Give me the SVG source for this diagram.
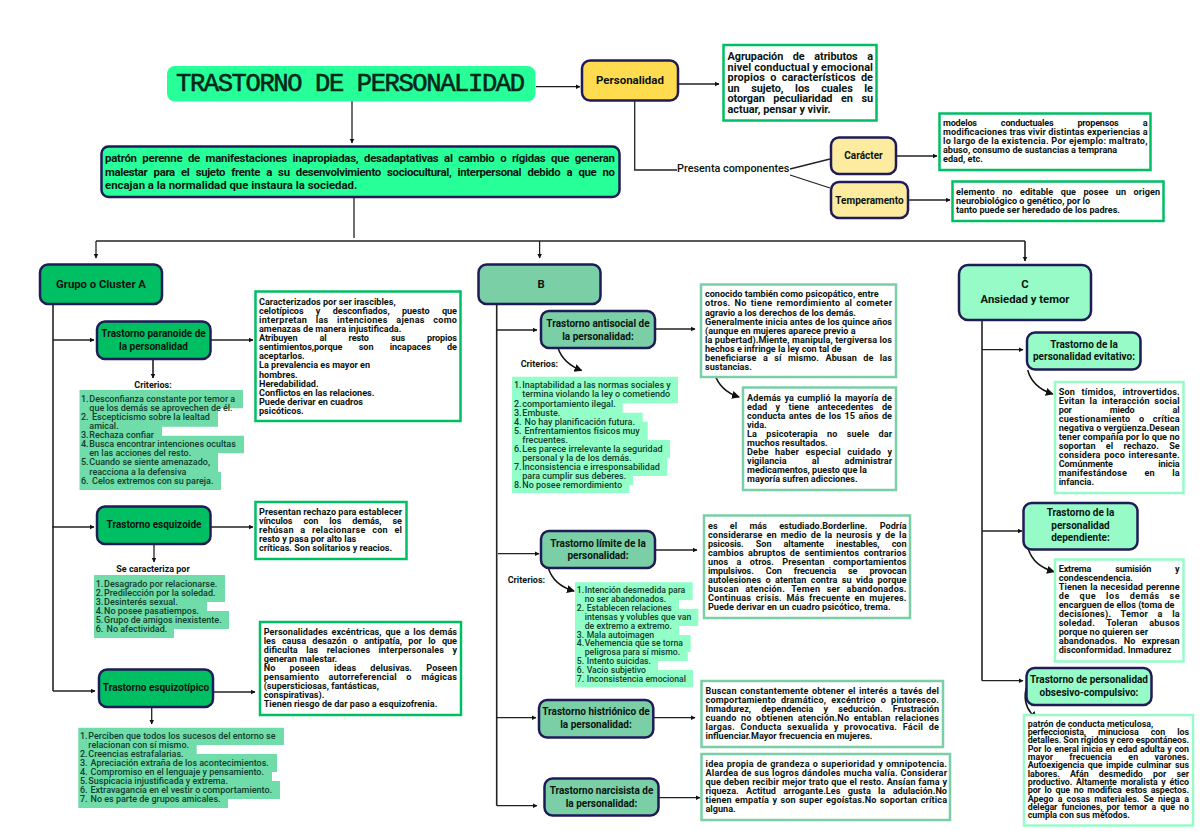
<svg xmlns="http://www.w3.org/2000/svg" width="1200" height="831" viewBox="0 0 1200 831">
<style>
text{font-family:Roboto,"Liberation Sans",sans-serif;fill:#0a1410}
.n{stroke:#1f1b57;stroke-width:2.5}
.a{fill:#00bf63}.b{fill:#7acfa6}.c{fill:#96fbc7}
.y1{fill:#ffdc4f}.y2{fill:#fdeb9f}
.bx{fill:#fff;stroke-width:2.5}
.ga{stroke:#00bf63}.gb{stroke:#7acfa6}.gc{stroke:#96fbc7}
.h{font-weight:700;font-size:10px;text-anchor:middle}
.h2{font-weight:700;font-size:11.3px;text-anchor:middle}
.t{font-weight:700;font-size:9.1px}
.o{font-weight:700;font-size:8.9px}
.g{font-weight:700;font-size:10.9px}
.d{font-weight:700;font-size:11.4px}
.l{font-weight:500;font-size:9px;fill:#123c2c}
.l2{font-weight:500;font-size:8.7px;fill:#123c2c}
.k{font-weight:700;font-size:9px}
.ha{fill:#6fdcaa}.hb{fill:#93ffc8}
.w{fill:none;stroke:#222;stroke-width:1.3}
.w2{fill:none;stroke:#222;stroke-width:1.6}
.ar{marker-end:url(#m)}
.cv{fill:none;stroke:#111;stroke-width:1.5;marker-end:url(#m2)}
</style>
<defs>
<marker id="m" markerUnits="userSpaceOnUse" markerWidth="6" markerHeight="6" refX="4.5" refY="2.5" orient="auto"><path d="M0 0L5 2.5L0 5Z" fill="#111"/></marker>
<marker id="m2" markerUnits="userSpaceOnUse" markerWidth="10" markerHeight="10" refX="7" refY="4" orient="auto"><path d="M0 0L8 4L0 8Z" fill="#111"/></marker>
</defs>
<g id="connectors">
<path class="w ar" d="M536 86.700H580"/>
<path class="w ar" d="M352 101V143"/>
<path class="w" d="M354 197V238"/>
<path class="w" d="M96 241H1025"/>
<path class="w ar" d="M96 241V258"/>
<path class="w ar" d="M539.600 241V258"/>
<path class="w2 ar" d="M1025 241V261"/>
<path class="w ar" d="M678 84H719"/>
<path class="w" d="M634.700 101V170H677"/>
<path class="w" d="M790 169L830 159M790 175L830 188"/>
<path class="w2 ar" d="M897 156H937"/>
<path class="w ar" d="M908 200H950"/>
<path class="w2" d="M53 304V691"/>
<path class="w ar" d="M53 340H94"/>
<path class="w ar" d="M211 340H253"/>
<path class="w2 ar" d="M153 359V378"/>
<path class="w ar" d="M52 527H94"/>
<path class="w ar" d="M211 527H253"/>
<path class="w ar" d="M154 544V562"/>
<path class="w ar" d="M53 691H95"/>
<path class="w ar" d="M214 692H255"/>
<path class="w ar" d="M151.700 707V724"/>
<path class="w2" d="M496.700 304V805.700"/>
<path class="w ar" d="M497 330H537"/>
<path class="w ar" d="M656 329H695"/>
<path class="cv" d="M558 348C562 360 570 366 581.500 370.500"/>
<path class="cv" d="M714.300 373C718 385 726 393 739 397"/>
<path class="w ar" d="M498 553.700H539"/>
<path class="w ar" d="M656 550H697"/>
<path class="cv" d="M548.300 568C552 580 560 587 574 591"/>
<path class="w ar" d="M496 717.700H536"/>
<path class="w ar" d="M654 717.700H695"/>
<path class="w ar" d="M496.700 805.700H537"/>
<path class="w ar" d="M659 797.700H700"/>
<path class="w2" d="M982 320V680.700"/>
<path class="w ar" d="M982 349.700H1023"/>
<path class="cv" d="M1027.700 370C1031 382 1040 390 1052.700 394"/>
<path class="w ar" d="M982 531H1022"/>
<path class="cv" d="M1028.300 549C1032 561 1041 568 1054 571.700"/>
<path class="w ar" d="M982 680.700H1023"/>
<path class="cv" d="M1027 686C1023 697 1026 707 1031 713L1036 719"/>
</g>
<g id="titulo"><rect x="167" y="66" width="368.500" height="35.500" rx="8" fill="#27ff99"/><text x="176" y="91" textLength="349" style="font-family:'Liberation Mono',monospace;font-size:25.500px;font-weight:400;fill:#06281c;stroke:#06281c;stroke-width:.6px">TRASTORNO DE PERSONALIDAD</text></g>
<g id="definicion"><rect class="n" x="101.500" y="146.500" width="518" height="50.500" rx="7" fill="#27ff99"/>
<text class="d" x="105" y="162" textLength="510" style="word-spacing:3px">patrón perenne de manifestaciones inapropiadas, desadaptativas al cambio o rígidas que generan</text>
<text class="d" x="105" y="175.500" textLength="510" style="word-spacing:3.700px">malestar para el sujeto frente a su desenvolvimiento sociocultural, interpersonal debido a que no</text>
<text class="d" x="105" y="189">encajan a la normalidad que instaura la sociedad.</text></g>
<g id="personalidad"><rect class="n y1" x="582" y="60.500" width="96" height="40" rx="8"/><text class="h" style="font-size:11.500px" x="630" y="84">Personalidad</text></g>
<g id="agrupacion"><rect class="bx ga" x="723.500" y="45" width="153" height="75.500"/>
<text class="g" x="727.500" y="60" textLength="145.500" style="word-spacing:7px">Agrupación de atributos a</text>
<text class="g" x="727.500" y="70.500" textLength="145.500">nivel conductual y emocional</text>
<text class="g" x="727.500" y="81" textLength="145.500" style="word-spacing:2.500px">propios o característicos de</text>
<text class="g" x="727.500" y="91.500" textLength="145.500" style="word-spacing:9px">un sujeto, los cuales le</text>
<text class="g" x="727.500" y="102" textLength="145.500" style="word-spacing:6px">otorgan peculiaridad en su</text>
<text class="g" x="727.500" y="112.500">actuar, pensar y vivir.</text></g>
<g id="presenta"><text x="677" y="172" style="font-weight:500;font-size:10.850px">Presenta componentes</text></g>
<g id="caracter"><rect class="n y2" x="831" y="137.500" width="65" height="36.500" rx="8"/><text class="h" x="863.500" y="159">Carácter</text></g>
<g id="temperamento"><rect class="n y2" x="831" y="182" width="77" height="36" rx="8"/><text class="h" x="869.500" y="203.500">Temperamento</text></g>
<g id="caracter-texto"><rect class="bx ga" x="939.500" y="113.500" width="211" height="56.500"/>
<text class="t" x="943" y="126" textLength="204.500" style="word-spacing:22px">modelos conductuales propensos a</text>
<text class="t" x="943" y="135" textLength="204.500">modificaciones tras vivir distintas experiencias a</text>
<text class="t" x="943" y="144" textLength="204.500">lo largo de la existencia. Por ejemplo: maltrato,</text>
<text class="t" x="943" y="153">abuso, consumo de sustancias a temprana</text>
<text class="t" x="943" y="162">edad, etc.</text></g>
<g id="temperamento-texto"><rect class="bx ga" x="952.500" y="181.500" width="211" height="39.500"/>
<text class="t" x="956" y="195" textLength="204" style="word-spacing:5px">elemento no editable que posee un origen</text>
<text class="t" x="956" y="204">neurobiológico o genético, por lo</text>
<text class="t" x="956" y="213">tanto puede ser heredado de los padres.</text></g>

<g id="cluster-a"><rect class="n a" x="40" y="264.500" width="122" height="39.500" rx="8"/><text class="h2" x="101" y="288">Grupo o Cluster A</text></g>
<g id="paranoide"><rect class="n a" x="97" y="321.500" width="113.500" height="37.500" rx="8"/><text class="h" x="153.500" y="337">Trastorno paranoide de</text><text class="h" x="153.500" y="350">la personalidad</text></g>
<g id="paranoide-texto"><rect class="bx ga" x="255.500" y="291.500" width="205" height="129.500"/>
<text class="t" x="259" y="304.700">Caracterizados por ser irascibles,</text>
<text class="t" x="259" y="313.800" textLength="198" style="word-spacing:10px">celotípicos y desconfiados, puesto que</text>
<text class="t" x="259" y="322.900" textLength="198" style="word-spacing:6px">interpretan las intenciones ajenas como</text>
<text class="t" x="259" y="332">amenazas de manera injustificada.</text>
<text class="t" x="259" y="341.100" textLength="198" style="word-spacing:20px">Atribuyen al resto sus propios</text>
<text class="t" x="259" y="350.200" textLength="198" style="word-spacing:14px">sentimientos,porque son incapaces de</text>
<text class="t" x="259" y="359.300">aceptarlos.</text>
<text class="t" x="259" y="368.400">La prevalencia es mayor en</text>
<text class="t" x="259" y="377.500">hombres.</text>
<text class="t" x="259" y="386.600">Heredabilidad.</text>
<text class="t" x="259" y="395.700">Conflictos en las relaciones.</text>
<text class="t" x="259" y="404.800">Puede derivar en cuadros</text>
<text class="t" x="259" y="413.900">psicóticos.</text></g>
<g id="paranoide-criterios"><text class="k" x="153" y="388" text-anchor="middle">Criterios:</text>
<path class="ha" d="M79.500 390H243V408.300H218V426.700H162V435.700H244V453.300H218V471.700H221V490H79.500Z"/>
<text class="l" y="401.700"><tspan x="81">1.</tspan><tspan x="89.300">Desconfianza constante por temor a</tspan></text>
<text class="l" x="89.300" y="410.800">que los demás se aprovechen de él.</text>
<text class="l" y="419.900"><tspan x="81">2.</tspan><tspan x="92">Escepticismo sobre la lealtad</tspan></text>
<text class="l" x="89.300" y="429">amical.</text>
<text class="l" y="438.100"><tspan x="81">3.</tspan><tspan x="89.300">Rechaza confiar</tspan></text>
<text class="l" y="447.200"><tspan x="81">4.</tspan><tspan x="89.300">Busca encontrar intenciones ocultas</tspan></text>
<text class="l" x="89.300" y="456.300">en las acciones del resto.</text>
<text class="l" y="465.400"><tspan x="81">5.</tspan><tspan x="89.300">Cuando se siente amenazado,</tspan></text>
<text class="l" x="89.300" y="474.500">reacciona a la defensiva</text>
<text class="l" y="483.600"><tspan x="81">6.</tspan><tspan x="92">Celos extremos con su pareja.</tspan></text></g>

<g id="esquizoide"><rect class="n a" x="97" y="506.500" width="113.500" height="37.500" rx="8"/><text class="h" x="154" y="527.700">Trastorno esquizoide</text></g>
<g id="esquizoide-texto"><rect class="bx ga" x="255.500" y="502" width="151" height="57"/>
<text class="t" x="259" y="515" textLength="143">Presentan rechazo para establecer</text>
<text class="t" x="259" y="524" textLength="143" style="word-spacing:9px">vínculos con los demás, se</text>
<text class="t" x="259" y="533" textLength="143" style="word-spacing:4px">rehúsan a relacionarse con el</text>
<text class="t" x="259" y="542">resto y pasa por alto las</text>
<text class="t" x="259" y="551">críticas. Son solitarios y reacios.</text></g>
<g id="esquizoide-criterios"><text class="k" x="153" y="572" text-anchor="middle">Se caracteriza por</text>
<path class="ha" d="M94 575H225V602H207V611H229V629H174V638H94Z"/>
<text class="l" y="586.700"><tspan x="95.700">1.</tspan><tspan x="104">Desagrado por relacionarse.</tspan></text>
<text class="l" y="595.700"><tspan x="95.700">2.</tspan><tspan x="104">Predilección por la soledad.</tspan></text>
<text class="l" y="604.700"><tspan x="95.700">3.</tspan><tspan x="104">Desinterés sexual.</tspan></text>
<text class="l" y="613.700"><tspan x="95.700">4.</tspan><tspan x="104">No posee pasatiempos.</tspan></text>
<text class="l" y="622.700"><tspan x="95.700">5.</tspan><tspan x="104">Grupo de amigos inexistente.</tspan></text>
<text class="l" y="631.700"><tspan x="95.700">6.</tspan><tspan x="106.500">No afectividad.</tspan></text></g>

<g id="esquizotipico"><rect class="n a" x="99" y="669.500" width="114" height="37.500" rx="8"/><text class="h" x="156" y="691">Trastorno esquizotípico</text></g>
<g id="esquizotipico-texto"><rect class="bx ga" x="260" y="622" width="201" height="93"/>
<text class="t" x="263.700" y="635" textLength="193.300" style="word-spacing:1.500px">Personalidades excéntricas, que a los demás</text>
<text class="t" x="263.700" y="644" textLength="193.300" style="word-spacing:4px">les causa desazón o antipatía, por lo que</text>
<text class="t" x="263.700" y="653" textLength="193.300" style="word-spacing:6px">dificulta las relaciones interpersonales y</text>
<text class="t" x="263.700" y="662">generan malestar.</text>
<text class="t" x="263.700" y="671" textLength="193.300" style="word-spacing:12px">No poseen ideas delusivas. Poseen</text>
<text class="t" x="263.700" y="680" textLength="193.300" style="word-spacing:7px">pensamiento autorreferencial o mágicas</text>
<text class="t" x="263.700" y="689">(supersticiosas, fantásticas,</text>
<text class="t" x="263.700" y="698">conspirativas).</text>
<text class="t" x="263.700" y="707">Tienen riesgo de dar paso a esquizofrenia.</text></g>
<g id="esquizotipico-criterios"><path class="ha" d="M78.300 727.700H284V745H196.700V754H277V772H272V781H280V799H228V808H78.300Z"/>
<text class="l" y="739"><tspan x="80">1.</tspan><tspan x="88.300">Perciben que todos los sucesos del entorno se</tspan></text>
<text class="l" x="88.300" y="748">relacionan con sí mismo.</text>
<text class="l" y="757"><tspan x="80">2.</tspan><tspan x="88.300">Creencias estrafalarias.</tspan></text>
<text class="l" y="766"><tspan x="80">3.</tspan><tspan x="90.500">Apreciación extraña de los acontecimientos.</tspan></text>
<text class="l" y="775"><tspan x="80">4.</tspan><tspan x="90.500">Compromiso en el lenguaje y pensamiento.</tspan></text>
<text class="l" y="784"><tspan x="80">5.</tspan><tspan x="88.300">Suspicacia injustificada y extrema.</tspan></text>
<text class="l" y="793"><tspan x="80">6.</tspan><tspan x="90.500">Extravagancia en el vestir o comportamiento.</tspan></text>
<text class="l" y="802"><tspan x="80">7.</tspan><tspan x="90.500">No es parte de grupos amicales.</tspan></text></g>

<g id="cluster-b"><rect class="n b" x="478.500" y="264.500" width="122" height="39.500" rx="8"/><text class="h2" x="541" y="288">B</text></g>
<g id="antisocial"><rect class="n b" x="541" y="311" width="114" height="37" rx="8"/><text class="h" x="598" y="326.700">Trastorno antisocial de</text><text class="h" x="598" y="339.500">la personalidad:</text></g>
<g id="antisocial-texto"><rect class="bx gb" x="701" y="284.500" width="195" height="92.500"/>
<text class="t" x="705" y="297.300">conocido también como psicopático, entre</text>
<text class="t" x="705" y="306.400" textLength="187" style="word-spacing:1.500px">otros. No tiene remordimiento al cometer</text>
<text class="t" x="705" y="315.500">agravio a los derechos de los demás.</text>
<text class="t" x="705" y="324.600" textLength="187">Generalmente inicia antes de los quince años</text>
<text class="t" x="705" y="333.700">(aunque en mujeres aparece previo a</text>
<text class="t" x="705" y="342.800" textLength="187">la pubertad).Miente, manipula, tergiversa los</text>
<text class="t" x="705" y="351.900">hechos e infringe la ley con tal de</text>
<text class="t" x="705" y="361" textLength="187" style="word-spacing:4px">beneficiarse a sí mismo. Abusan de las</text>
<text class="t" x="705" y="370.100">sustancias.</text></g>
<g id="antisocial-texto2"><rect class="bx gb" x="743" y="387.500" width="153" height="102.500"/>
<text class="t" x="747" y="401" textLength="145" style="word-spacing:1px">Además ya cumplió la mayoría de</text>
<text class="t" x="747" y="410" textLength="145" style="word-spacing:6px">edad y tiene antecedentes de</text>
<text class="t" x="747" y="419" textLength="145" style="word-spacing:1px">conducta antes de los 15 años de</text>
<text class="t" x="747" y="428">vida.</text>
<text class="t" x="747" y="437" textLength="145" style="word-spacing:7px">La psicoterapia no suele dar</text>
<text class="t" x="747" y="446">muchos resultados.</text>
<text class="t" x="747" y="455" textLength="145" style="word-spacing:4px">Debe haber especial cuidado y</text>
<text class="t" x="747" y="464" textLength="145" style="word-spacing:23px">vigilancia al administrar</text>
<text class="t" x="747" y="473">medicamentos, puesto que la</text>
<text class="t" x="747" y="482">mayoría sufren adicciones.</text></g>
<g id="antisocial-criterios"><text class="k" x="520.700" y="367.300">Criterios:</text>
<path class="hb" d="M512 376.700H678V403.300H622.700V412.700H642.700V421.700H647.700V440H670V458.300H667V476H633V485H629V493H512Z"/>
<text class="l" y="388.300"><tspan x="514">1.</tspan><tspan x="522.300">Inaptabilidad a las normas sociales y</tspan></text>
<text class="l" x="522.300" y="397.400">termina violando la ley o cometiendo</text>
<text class="l" y="406.500"><tspan x="514">2.</tspan><tspan x="522.300">comportamiento ilegal.</tspan></text>
<text class="l" y="415.600"><tspan x="514">3.</tspan><tspan x="522.300">Embuste.</tspan></text>
<text class="l" y="424.700"><tspan x="514">4.</tspan><tspan x="524.500">No hay planificación futura.</tspan></text>
<text class="l" y="433.800"><tspan x="514">5.</tspan><tspan x="524.500">Enfrentamientos físicos muy</tspan></text>
<text class="l" x="522.300" y="442.900">frecuentes.</text>
<text class="l" y="452"><tspan x="514">6.</tspan><tspan x="522.300">Les parece irrelevante la seguridad</tspan></text>
<text class="l" x="522.300" y="461">personal y la de los demás.</text>
<text class="l" y="470"><tspan x="514">7.</tspan><tspan x="522.300">Inconsistencia e irresponsabilidad</tspan></text>
<text class="l" x="522.300" y="479">para cumplir sus deberes.</text>
<text class="l" y="488"><tspan x="514">8.</tspan><tspan x="522.300">No posee remordimiento</tspan></text></g>

<g id="limite"><rect class="n b" x="541" y="531" width="114" height="37" rx="8"/><text class="h" x="598" y="546.700">Trastorno límite de la</text><text class="h" x="598" y="559.300">personalidad:</text></g>
<g id="limite-texto"><rect class="bx gb" x="704" y="515.500" width="206" height="102.500"/>
<text class="t" x="708" y="528.700" textLength="198.500" style="word-spacing:10px">es el más estudiado.Borderline. Podría</text>
<text class="t" x="708" y="537.700" textLength="198.500" style="word-spacing:1.500px">considerarse en medio de la neurosis y de la</text>
<text class="t" x="708" y="546.800" textLength="198.500" style="word-spacing:10px">psicosis. Son altamente inestables, con</text>
<text class="t" x="708" y="555.800" textLength="198.500" style="word-spacing:2px">cambios abruptos de sentimientos contrarios</text>
<text class="t" x="708" y="564.800" textLength="198.500" style="word-spacing:6px">unos a otros. Presentan comportamientos</text>
<text class="t" x="708" y="573.900" textLength="198.500" style="word-spacing:10px">impulsivos. Con frecuencia se provocan</text>
<text class="t" x="708" y="582.900" textLength="198.500" style="word-spacing:2px">autolesiones o atentan contra su vida porque</text>
<text class="t" x="708" y="591.900" textLength="198.500" style="word-spacing:4px">buscan atención. Temen ser abandonados.</text>
<text class="t" x="708" y="601" textLength="198.500" style="word-spacing:2px">Continuas crisis. Más frecuente en mujeres.</text>
<text class="t" x="708" y="610">Puede derivar en un cuadro psicótico, trema.</text></g>
<g id="limite-criterios"><text class="k" x="507.700" y="582.700">Criterios:</text>
<path class="hb" d="M575 582.300H692.700V600H679V608.700H698.300V626H679V635H690.700V652H687.700V661H658V670H693V687.300H575Z"/>
<text class="l2" y="593.300"><tspan x="576.700">1.</tspan><tspan x="584.700">Intención desmedida para</tspan></text>
<text class="l2" x="584.700" y="602.100">no ser abandonados.</text>
<text class="l2" y="611"><tspan x="576.700">2.</tspan><tspan x="586.700">Establecen relaciones</tspan></text>
<text class="l2" x="584.700" y="619.800">intensas y volubles que van</text>
<text class="l2" x="584.700" y="628.600">de extremo a extremo.</text>
<text class="l2" y="637.500"><tspan x="576.700">3.</tspan><tspan x="586.700">Mala autoimagen</tspan></text>
<text class="l2" y="646.300"><tspan x="576.700">4.</tspan><tspan x="584.700">Vehemencia que se torna</tspan></text>
<text class="l2" x="584.700" y="655.100">peligrosa para sí mismo.</text>
<text class="l2" y="664"><tspan x="576.700">5.</tspan><tspan x="586.700">Intento suicidas.</tspan></text>
<text class="l2" y="672.800"><tspan x="576.700">6.</tspan><tspan x="586.700">Vacío subjetivo</tspan></text>
<text class="l2" y="681.700"><tspan x="576.700">7.</tspan><tspan x="586.700">Inconsistencia emocional</tspan></text></g>

<g id="histrionico"><rect class="n b" x="539" y="700" width="114.300" height="37.500" rx="8"/><text class="h" x="596" y="715.300">Trastorno histriónico de</text><text class="h" x="596" y="728">la personalidad:</text></g>
<g id="histrionico-texto"><rect class="bx gb" x="701.500" y="681" width="241.500" height="66"/>
<text class="t" x="705.500" y="694" textLength="233.500" style="word-spacing:1px">Buscan constantemente obtener el interés a tavés del</text>
<text class="t" x="705.500" y="703" textLength="233.500" style="word-spacing:2.500px">comportamiento dramático, excéntrico o pintoresco.</text>
<text class="t" x="705.500" y="712" textLength="233.500" style="word-spacing:8px">Inmadurez, dependencia y seducción. Frustración</text>
<text class="t" x="705.500" y="721" textLength="233.500" style="word-spacing:2px">cuando no obtienen atención.No entablan relaciones</text>
<text class="t" x="705.500" y="730" textLength="233.500" style="word-spacing:3px">largas. Conducta sexualida y provocativa. Fácil de</text>
<text class="t" x="705.500" y="739">influenciar.Mayor frecuencia en mujeres.</text></g>
<g id="narcisista"><rect class="n b" x="544.500" y="778.500" width="114" height="37" rx="8"/><text class="h" x="601.500" y="794">Trastorno narcisista de</text><text class="h" x="601.500" y="806.700">la personalidad:</text></g>
<g id="narcisista-texto"><rect class="bx gb" x="701.500" y="754" width="248.500" height="66"/>
<text class="t" x="705.500" y="767" textLength="241.500" style="word-spacing:.5px">idea propia de grandeza o superioridad y omnipotencia.</text>
<text class="t" x="705.500" y="776" textLength="241.500" style="word-spacing:.3px">Alardea de sus logros dándoles mucha valía. Considerar</text>
<text class="t" x="705.500" y="785" textLength="241.500" style="word-spacing:.3px">que deben recibir mejor trato que el resto. Ansían fama y</text>
<text class="t" x="705.500" y="794" textLength="241.500" style="word-spacing:5px">riqueza. Actitud arrogante.Les gusta la adulación.No</text>
<text class="t" x="705.500" y="803" textLength="241.500" style="word-spacing:1px">tienen empatía y son super egoístas.No soportan crítica</text>
<text class="t" x="705.500" y="812">alguna.</text></g>

<g id="cluster-c"><rect class="n c" x="959" y="265" width="132" height="55" rx="9"/><text class="h2" x="1025" y="288.300">C</text><text class="h2" x="1025" y="303.300">Ansiedad y temor</text></g>
<g id="evitativo"><rect class="n c" x="1027" y="332.500" width="113.500" height="37" rx="8"/><text class="h" x="1084" y="347.700">Trastorno de la</text><text class="h" x="1084" y="360.300">personalidad evitativo:</text></g>
<g id="evitativo-texto"><rect class="bx gc" x="1055" y="382" width="128.500" height="111"/>
<text class="t" x="1058.700" y="395" textLength="121" style="word-spacing:4px">Son tímidos, introvertidos.</text>
<text class="t" x="1058.700" y="404" textLength="121" style="word-spacing:2px">Evitan la interacción social</text>
<text class="t" x="1058.700" y="413" textLength="121" style="word-spacing:36px">por miedo al</text>
<text class="t" x="1058.700" y="422" textLength="121" style="word-spacing:6px">cuestionamiento o crítica</text>
<text class="t" x="1058.700" y="431" textLength="121">negativa o vergüenza.Desean</text>
<text class="t" x="1058.700" y="440" textLength="121">tener compañía por lo que no</text>
<text class="t" x="1058.700" y="449" textLength="121" style="word-spacing:8px">soportan el rechazo. Se</text>
<text class="t" x="1058.700" y="458" textLength="121" style="word-spacing:1px">considera poco interesante.</text>
<text class="t" x="1058.700" y="467" textLength="121" style="word-spacing:43px">Comúnmente inicia</text>
<text class="t" x="1058.700" y="476" textLength="121" style="word-spacing:15px">manifestándose en la</text>
<text class="t" x="1058.700" y="485">infancia.</text></g>
<g id="dependiente"><rect class="n c" x="1023.500" y="503" width="114" height="46.500" rx="8"/><text class="h" x="1080.500" y="516.300">Trastorno de la</text><text class="h" x="1080.500" y="529">personalidad</text><text class="h" x="1080.500" y="541.300">dependiente:</text></g>
<g id="dependiente-texto"><rect class="bx gc" x="1055" y="559.500" width="128.500" height="102"/>
<text class="t" x="1058.700" y="572" textLength="121" style="word-spacing:22px">Extrema sumisión y</text>
<text class="t" x="1058.700" y="581">condescendencia.</text>
<text class="t" x="1058.700" y="590" textLength="121" style="word-spacing:.5px">Tienen la necesidad perenne</text>
<text class="t" x="1058.700" y="599" textLength="121" style="word-spacing:7px">de que los demás se</text>
<text class="t" x="1058.700" y="608">encarguen de ellos (toma de</text>
<text class="t" x="1058.700" y="617" textLength="121" style="word-spacing:7px">decisiones). Temor a la</text>
<text class="t" x="1058.700" y="626" textLength="121" style="word-spacing:9px">soledad. Toleran abusos</text>
<text class="t" x="1058.700" y="635">porque no quieren ser</text>
<text class="t" x="1058.700" y="644" textLength="121" style="word-spacing:4px">abandonados. No expresan</text>
<text class="t" x="1058.700" y="653">disconformidad. Inmadurez</text></g>
<g id="obsesivo"><rect class="n c" x="1026.500" y="668" width="125" height="37" rx="8"/><text class="h" x="1089" y="683.300">Trastorno de personalidad</text><text class="h" x="1089" y="696">obsesivo-compulsivo:</text></g>
<g id="obsesivo-texto"><rect class="bx gc" x="1024" y="715" width="169" height="110.500"/>
<text class="o" x="1027.700" y="726.700">patrón de conducta meticulosa,</text>
<text class="o" style="word-spacing:10px" x="1027.700" y="735" textLength="161.300">perfeccionista, minuciosa con los</text>
<text class="o" x="1027.700" y="743.400" textLength="161.300">detalles. Son rígidos y cero espontáneos.</text>
<text class="o" style="word-spacing:.5px" x="1027.700" y="751.700" textLength="161.300">Por lo eneral inicia en edad adulta y con</text>
<text class="o" style="word-spacing:14px" x="1027.700" y="760" textLength="161.300">mayor frecuencia en varones.</text>
<text class="o" style="word-spacing:1.500px" x="1027.700" y="768.400" textLength="161.300">Autoexigencia que impide culminar sus</text>
<text class="o" style="word-spacing:8px" x="1027.700" y="776.700" textLength="161.300">labores. Afán desmedido por ser</text>
<text class="o" style="word-spacing:1.500px" x="1027.700" y="785" textLength="161.300">productivo. Altamente moralista y ético</text>
<text class="o" style="word-spacing:1.500px" x="1027.700" y="793.400" textLength="161.300">por lo que no modifica estos aspectos.</text>
<text class="o" style="word-spacing:2px" x="1027.700" y="801.700" textLength="161.300">Apego a cosas materiales. Se niega a</text>
<text class="o" style="word-spacing:2px" x="1027.700" y="810" textLength="161.300">delegar funciones, por temor a que no</text>
<text class="o" x="1027.700" y="818.400">cumpla con sus métodos.</text></g>
</svg>
